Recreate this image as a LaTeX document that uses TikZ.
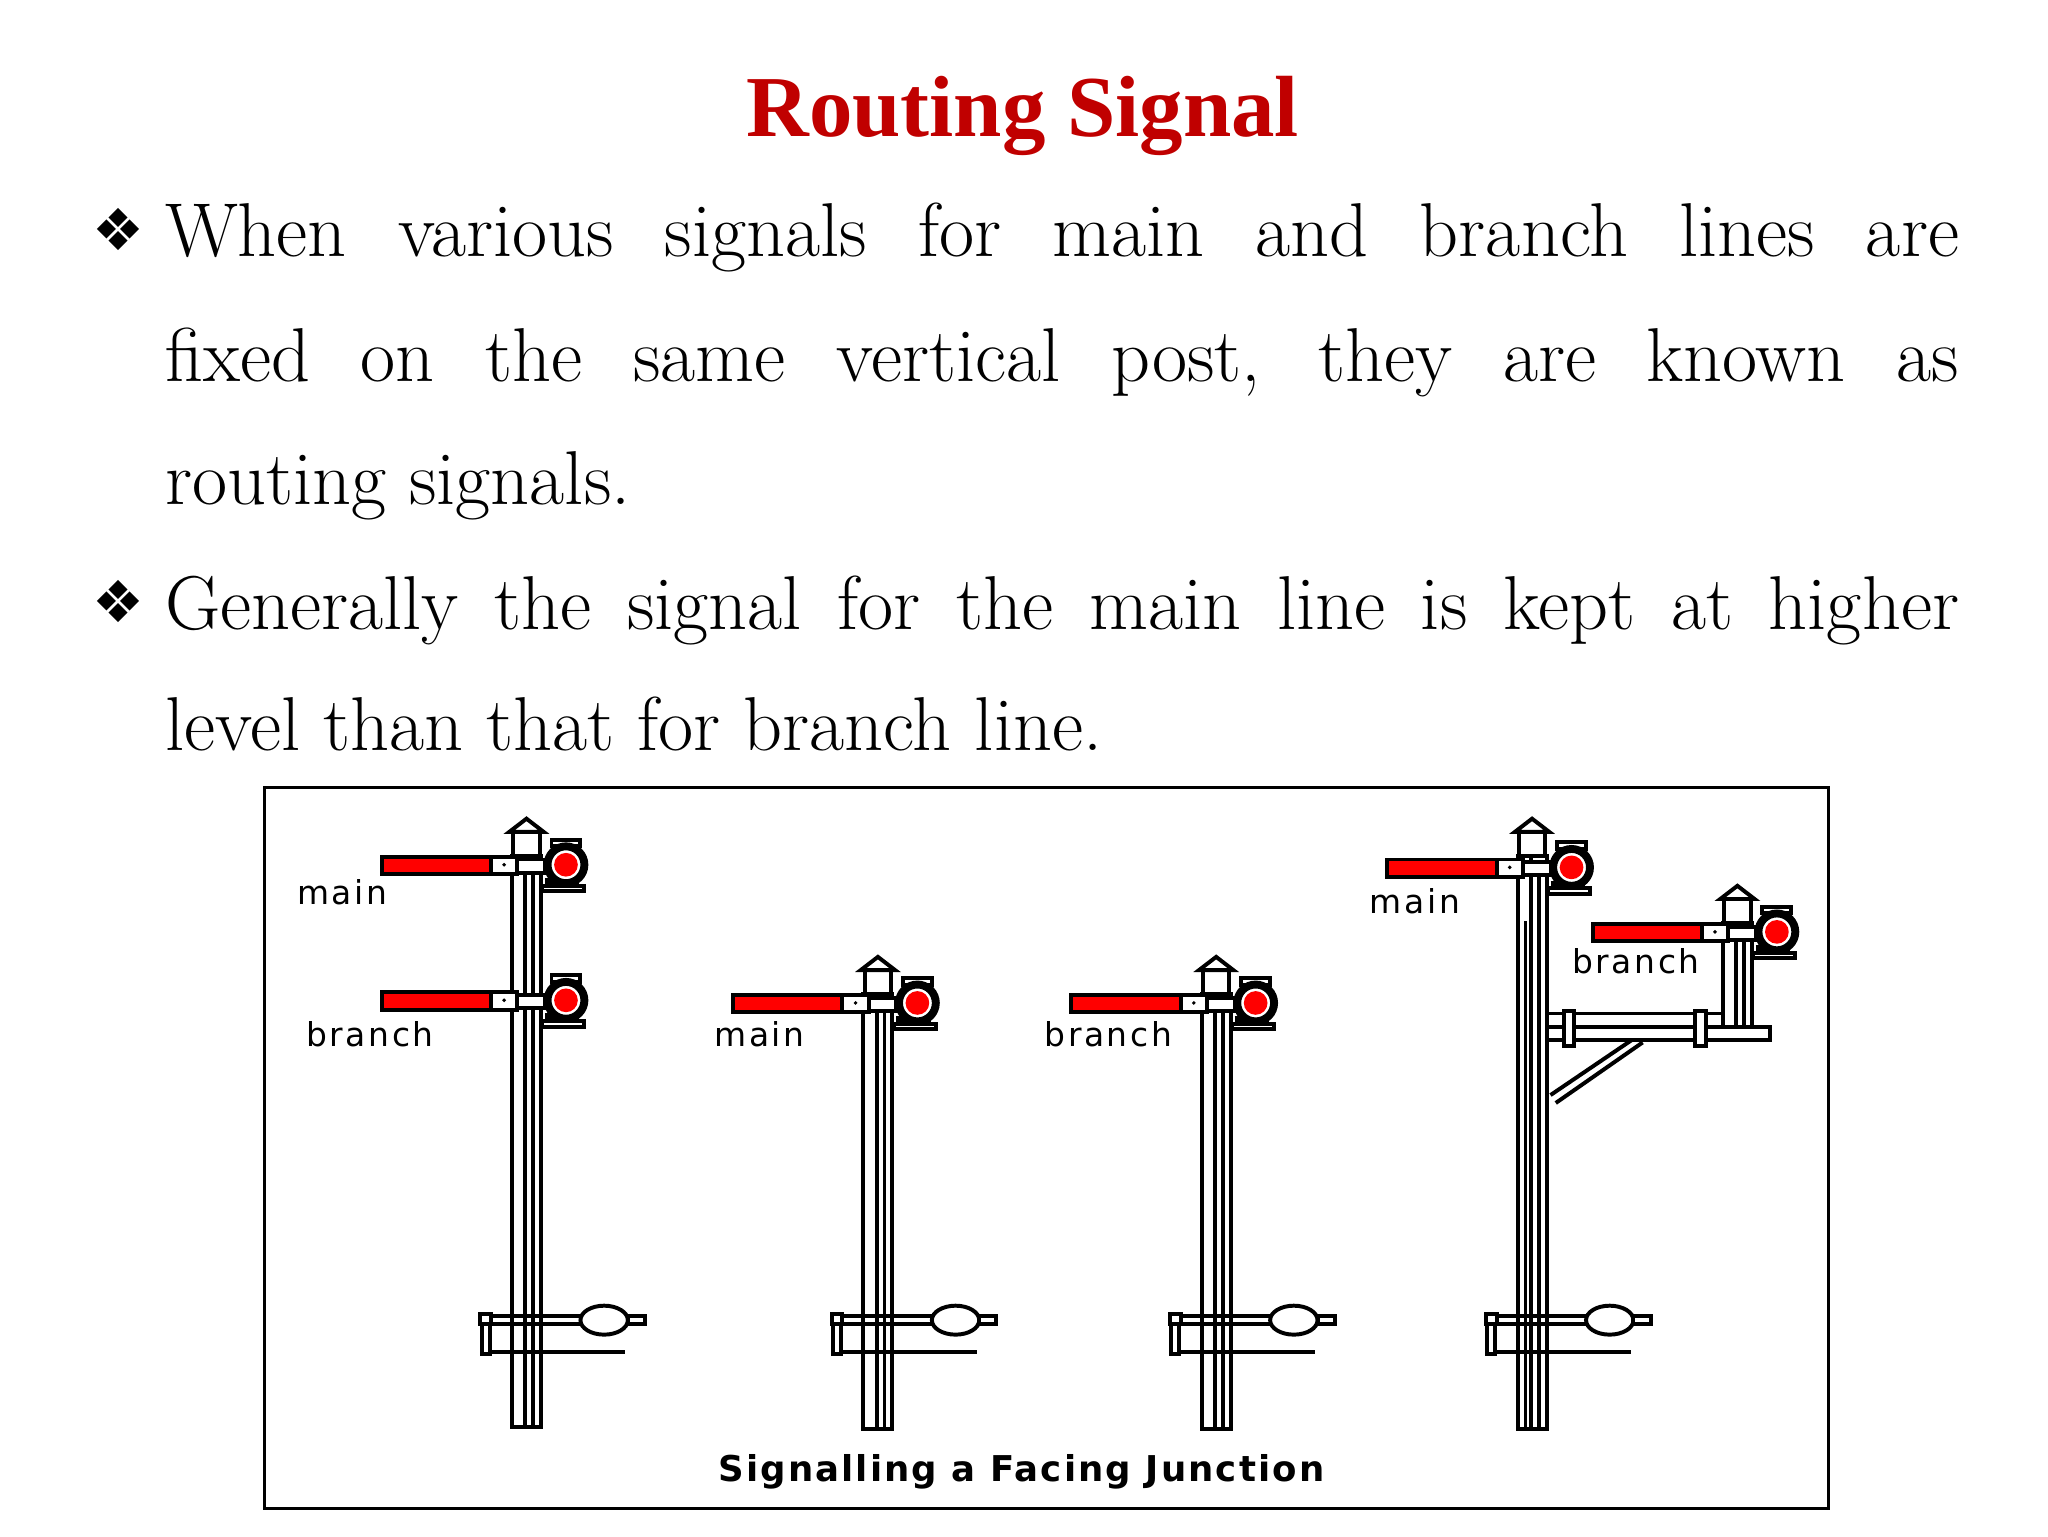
\documentclass[tikz,border=0pt]{standalone}
\usepackage{fontspec}
\newfontfamily\titlefont{Liberation Serif}
\newfontfamily\symfont{DejaVu Sans}
\newfontfamily\labfont[LetterSpace=8]{DejaVu Sans}
\newfontfamily\capfont[LetterSpace=6]{DejaVu Sans}
\definecolor{tred}{RGB}{192,0,0}
\definecolor{sred}{RGB}{255,0,0}
\tikzset{ln/.style={line width=1.5pt},
 lab/.style={font=\labfont\fontsize{12.5}{14}\selectfont,inner sep=0pt},
 bl/.style={font=\fontsize{29}{34}\selectfont,inner sep=0pt,anchor=base west},
 bul/.style={font=\symfont\fontsize{22}{22}\selectfont,inner sep=0pt,anchor=base}}
\newcommand\jline[1]{\makebox[681.5pt][s]{#1}}
\newcommand\poststick[3]{% center, top, bottom
 \begin{scope}[shift={(#1,0)}]
 \draw[ln,fill=white] (-11,#2+28) rectangle (11,#3);
 \draw[ln] (-1,#2+28) -- (-1,#3) (5,#2+36) -- (5,#3);
 \draw[ln,fill=white] (-10,#2+10) rectangle (10,#2+28);
 \draw[ln,fill=white] (-13,#2+10) -- (0,#2) -- (13,#2+10) -- cycle;
 \end{scope}}
\newcommand\sighead[2]{% center, arm y
 \begin{scope}[shift={(#1,#2)}]
 \draw[ln,fill=sred] (-110,-6) rectangle (-27,7);
 \draw[ln,fill=white] (-27,-6) rectangle (-7,7);
 \fill (-17,0) circle (1.5);
 \draw[ln,fill=white] (-7,-4) rectangle (14,6);
 \draw[ln,fill=white] (19,-19) rectangle (41,-14);
 \draw[ln,fill=white] (22,-14) rectangle (38,-9);
 \draw[line width=4pt] (14,14) -- (40,14);
 \draw[ln,fill=white] (12,16) rectangle (44,20);
 \draw[line width=3pt,fill=white] (30,0) circle (14);
 \fill[sred] (30,0) circle (9);
 \end{scope}}
\newcommand\lever[1]{%
 \begin{scope}[shift={(#1,1003)}]
 \draw[ln] (-28,-3) -- (60,-3) (-28,3) -- (60,3);
 \draw[ln,fill=white] (-35,-5) rectangle (-27,3);
 \draw[ln,fill=white] (-34,3) rectangle (-28,26);
 \draw[ln] (-28,24) -- (75,24);
 \draw[ln,fill=white] (59,0) ellipse (18 and 11);
 \draw[ln,fill=white] (77,-3) rectangle (90,3);
 \end{scope}}
\begin{document}
\begin{tikzpicture}[x=0.5pt,y=-0.5pt]
\useasboundingbox (0,0) rectangle (1556,1167);
\node[font=\titlefont\bfseries\fontsize{33}{36}\selectfont,text=tred] (title) at (777,88) {Routing Signal};
\node[bul] (b1) at (90,190) {❖};
\node[bul] (b2) at (90,473) {❖};
\node[bl] (t1) at (125,195) {\jline{When various signals for main and branch lines are}};
\node[bl] (t2) at (125,290) {\jline{fixed on the same vertical post, they are known as}};
\node[bl] (t3) at (125,383) {routing signals.};
\node[bl] (t4) at (125,478) {\jline{Generally the signal for the main line is kept at higher}};
\node[bl] (t5) at (125,570) {level than that for branch line.};
\draw[line width=1.2pt] (201,598) rectangle (1389,1146);
% signal 1
\poststick{400}{622}{1084}
\sighead{400}{657}\sighead{400}{760}
\lever{400}
% signal 2
\poststick{667}{727}{1086}
\sighead{667}{762}
\lever{667}
% signal 3
\poststick{924}{727}{1086}
\sighead{924}{762}
\lever{924}
% signal 4 bracket
\draw[ln] (1178,832) -- (1240,790) (1182,838) -- (1248,792);
\draw[ln,fill=white] (1170,780) rectangle (1345,790);
\draw[ln] (1170,770) -- (1318,770);
\draw[ln,fill=white] (1188,768) rectangle (1196,795);
\draw[ln,fill=white] (1288,768) rectangle (1296,795);
\poststick{1320}{673}{780}
\sighead{1320}{708}
\poststick{1164}{622}{1086}
\draw[ln] (1159,700) -- (1159,1086);
\sighead{1164}{659}
\lever{1164}
\node[lab] (l1) at (260,678) {main};
\node[lab] (l2) at (281,786) {branch};
\node[lab] (l3) at (577,786) {main};
\node[lab] (l4) at (842,786) {branch};
\node[lab] (l5) at (1075,685) {main};
\node[lab] (l6) at (1243,730) {branch};
\node[font=\capfont\bfseries\fontsize{13.5}{15}\selectfont] (cap) at (776,1118) {Signalling a Facing Junction};
\end{tikzpicture}
\end{document}
